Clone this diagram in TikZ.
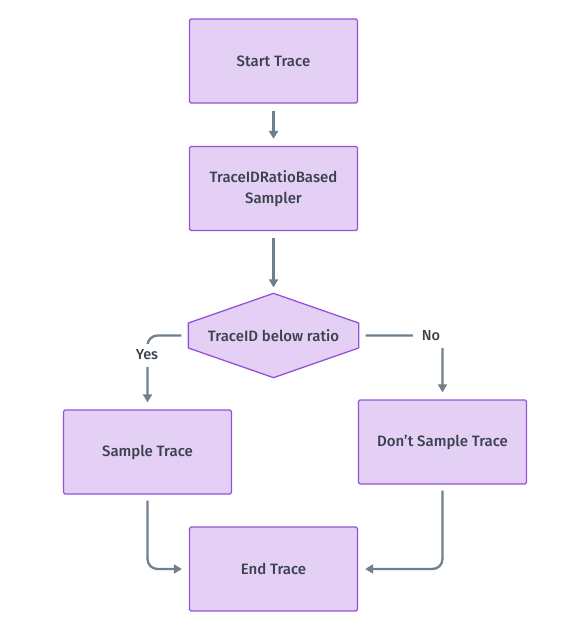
\documentclass[tikz,border=0pt]{standalone}
\usepackage{fontspec}
\setmainfont{Fira Sans}[UprightFont={* Medium}]
\usetikzlibrary{arrows.meta,calc}
\definecolor{boxfill}{HTML}{E4CFF5}
\definecolor{boxline}{HTML}{9552D8}
\definecolor{edge}{HTML}{6E7F8D}
\definecolor{txt}{HTML}{3A424E}
\tikzset{
  stepbox/.style={draw=boxline, fill=boxfill, line width=1.3pt, rounded corners=1.5pt,
    minimum width=168pt, minimum height=84pt, inner sep=0pt, align=center,
    text=txt, font=\fontsize{15}{21.5}\selectfont},
  flow/.style={draw=edge, line width=2.3pt, rounded corners=10pt,
    -{Triangle[length=8pt,width=9pt]}},
  lbl/.style={fill=white, text=txt, inner sep=0pt, font=\fontsize{14.5}{15}\selectfont}
}
\begin{document}
\begin{tikzpicture}[x=1pt,y=-1pt]
\useasboundingbox (0,0) rectangle (560,642);
\node[stepbox] (start) at (273.5,61) {Start Trace};
\node[stepbox] (sampler) at (273.5,188.5) {TraceIDRatioBased\\Sampler};
\node[stepbox, draw=none, fill=none, minimum width=169pt, minimum height=83pt] (dec) at (273.5,335.5) {};
\draw[draw=boxline, fill=boxfill, line width=1.3pt, line join=round]
  (dec.north) -- ($(dec.east)+(0,-12.5)$) -- ($(dec.east)+(0,12.5)$) -- (dec.south)
  -- ($(dec.west)+(0,12.5)$) -- ($(dec.west)+(0,-12.5)$) -- cycle;
\node[text=txt, font=\fontsize{15}{17}\selectfont] (dectext) at (dec.center) {TraceID below ratio};
\node[stepbox] (sample) at (147.5,452) {Sample Trace};
\node[stepbox] (nosample) at (442.5,442) {Don't Sample Trace};
\node[stepbox] (end) at (273.5,569) {End Trace};

\draw[flow, shorten <=7pt, shorten >=7pt] (start) -- (sampler);
\draw[flow, shorten <=7pt, shorten >=6pt] (sampler) -- (dec.north);
\draw[flow, shorten <=7pt, shorten >=7pt] (dec.west) -| (sample.north);
\draw[flow, shorten <=7pt, shorten >=7pt] (dec.east) -| (nosample.north);
\node[lbl, minimum width=30pt, minimum height=23pt] (yes) at (147,355) {Yes};
\node[lbl, minimum width=36pt, minimum height=24pt] (no) at (431,336) {No};
\draw[flow, shorten <=6pt, shorten >=7pt] (sample.south) |- (end.west);
\draw[flow, shorten <=6pt, shorten >=7pt] (nosample.south) |- (end.east);
\end{tikzpicture}
\end{document}
